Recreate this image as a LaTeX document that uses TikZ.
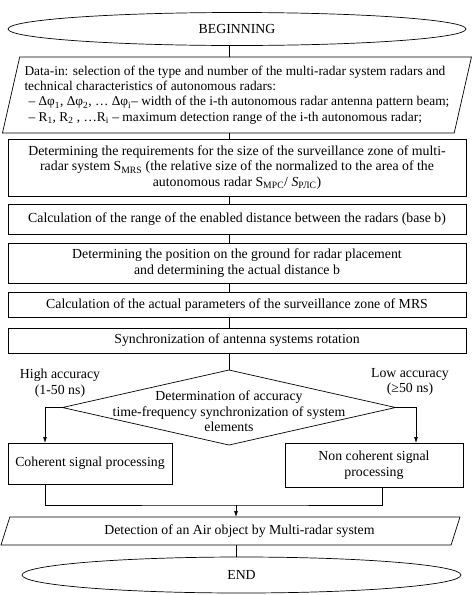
\documentclass[tikz,border=0pt]{standalone}
\usepackage{fontspec}
\setmainfont{Liberation Serif}
\usetikzlibrary{positioning,shapes.geometric}
\usepgflibrary{arrows.meta}

\begin{document}
\begin{tikzpicture}
    [x=1pt, y=-1pt,
    node distance=9pt,
    line width=0.7pt,
    font=\fontsize{13.8}{15.4}\selectfont,
    terminal/.style={draw, ellipse, inner sep=0pt, outer sep=0pt},
    io/.style={draw, trapezium, trapezium stretches body, inner sep=2pt, outer sep=0pt},
    process/.style={draw, rectangle, minimum width=458pt, align=center, inner sep=3pt, outer sep=0pt},
    decision/.style={draw, diamond, inner sep=0pt, outer sep=0pt, minimum width=333pt, minimum height=75pt},
    arrow/.style={-{Latex[length=6pt,width=4pt]}}]
        \useasboundingbox (0,0) rectangle (474,595);
        \coordinate (spine) at (229,0);
        \coordinate (lbranch) at (45,0);
        \coordinate (rbranch) at (416,0);
        \coordinate (rjoin) at (382,0);

        %% Main column
        \node[terminal, minimum width=458pt, minimum height=33pt] (start) at (237,29) {BEGINNING};
        \node[io, trapezium left angle=74.5, trapezium right angle=105.5, minimum width=469pt, minimum height=76pt, align=left, font=\fontsize{13.4}{15.3}\selectfont, below=11.5pt of start] (datain) {Data-in: selection of the type and number of the multi-radar system radars and\\
            technical characteristics of autonomous radars:\\
            \hspace*{4pt}– Δφ\textsubscript{1}, Δφ\textsubscript{2}, … Δφ\textsubscript{i}– width of the i-th autonomous radar antenna pattern beam;\\
            \hspace*{4pt}– R\textsubscript{1}, R\textsubscript{2} , …R\textsubscript{i} – maximum detection range of the i-th autonomous radar;};
        \node[process, minimum height=57pt, below=6pt of datain] (reqs) {Determining the requirements for the size of the surveillance zone of multi-\\radar system S\textsubscript{MRS} (the relative size of the normalized to the area of the\\autonomous radar S\textsubscript{МРС}/ \textit{S}\textsubscript{РЛС})};
        \node[process, minimum height=30pt, below=8pt of reqs] (range) {Calculation of the range of the enabled distance between the radars (base b)};
        \node[process, minimum height=40pt, below=9pt of range] (ground) {Determining the position on the ground for radar placement\\and determining the actual distance b};
        \node[process, minimum height=25.5pt, below=9pt of ground] (params) {Calculation of the actual parameters of the surveillance zone of MRS};
        \node[process, minimum height=25pt, below=10.5pt of params] (sync) {Synchronization of antenna systems rotation};

        %% Decision and branches
        \coordinate (syncfoot) at (sync.south -| spine);
        \node[decision, below=17pt of syncfoot, label={[align=center, yshift=-4pt]center:{Determination of accuracy\\time-frequency synchronization of system\\elements}}] (accuracy) {};
        \node[align=center] (high) at (60,383) {High accuracy\\(1-50 ns)};
        \node[align=center] (low) at (410,382) {Low accuracy\\(≥50 ns)};
        \node[process, minimum width=164pt, minimum height=41pt] (coh) at (90,463.5) {Coherent signal processing};
        \node[process, minimum width=178pt, minimum height=44pt] (noncoh) at (374,465) {Non coherent signal\\processing};

        %% Output
        \coordinate (merge) at (236,505);
        \node[io, trapezium left angle=62, trapezium right angle=118, minimum width=459pt, minimum height=28pt, below=12pt of merge, xshift=-5.5pt] (detect) {\hspace*{18pt}Detection of an Air object by Multi-radar system};
        \node[terminal, minimum width=439pt, minimum height=36pt, below=12pt of detect, xshift=11pt] (finish) {END};

        \draw (start.south -| spine) to (datain.north -| spine);
        \draw (datain.south -| spine) to (reqs.north -| spine);
        \draw (reqs.south -| spine) to (range.north -| spine);
        \draw (range.south -| spine) to (ground.north -| spine);
        \draw (ground.south -| spine) to (params.north -| spine);
        \draw (params.south -| spine) to (sync.north -| spine);
        \draw (syncfoot) to (accuracy.north);
        \draw[arrow] (accuracy.west) -| (coh.north -| lbranch);
        \draw[arrow] (accuracy.east) -| (noncoh.north -| rbranch);
        \draw (coh.south -| lbranch) |- (merge) -| (noncoh.south -| rjoin);
        \draw[arrow] (merge) to (detect.north -| merge);
        \draw (detect.south -| merge) to (finish.north -| merge);
    \end{tikzpicture}
\end{document}
